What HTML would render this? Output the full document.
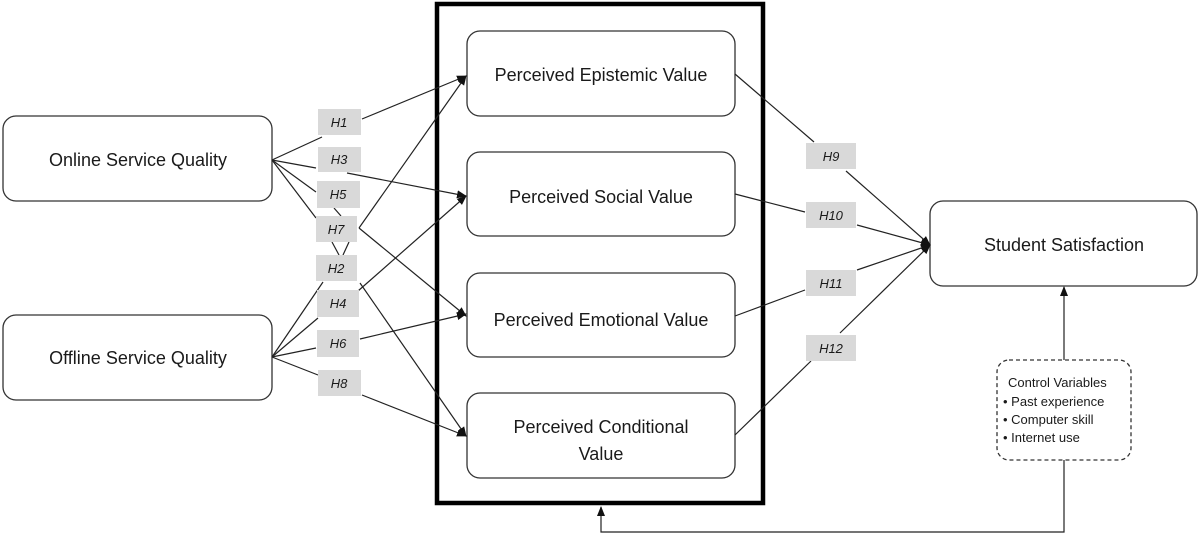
<!DOCTYPE html>
<html><head><meta charset="utf-8"><style>
html,body{margin:0;padding:0;background:#fff;}
svg{display:block;}
text{font-family:"Liberation Sans",Arial,sans-serif;fill:#1a1a1a;}
.b{font-size:18px;text-anchor:middle;}
.h{font-size:13px;font-style:italic;text-anchor:middle;}
.c{font-size:13px;}
</style></head><body>
<svg width="1200" height="535" viewBox="0 0 1200 535" xmlns="http://www.w3.org/2000/svg">
<defs><marker id="a" markerWidth="10" markerHeight="10" refX="9" refY="5" orient="auto" markerUnits="userSpaceOnUse"><path d="M0,1 L10,5 L0,9 z" fill="#111"/></marker></defs>
<rect x="437" y="4" width="326" height="499" fill="none" stroke="#000" stroke-width="4.5"/>
<g fill="#fff" stroke="#333" stroke-width="1.3">
<rect x="3" y="116" width="269" height="85" rx="13"/>
<rect x="3" y="315" width="269" height="85" rx="13"/>
<rect x="467" y="31" width="268" height="85" rx="13"/>
<rect x="467" y="152" width="268" height="84" rx="13"/>
<rect x="467" y="273" width="268" height="84" rx="13"/>
<rect x="467" y="393" width="268" height="85" rx="13"/>
<rect x="930" y="201" width="267" height="85" rx="13"/>
<rect x="997" y="360" width="134" height="100" rx="12" stroke-dasharray="4,3"/>
</g>
<g stroke="#222" stroke-width="1.2" fill="none">
<line x1="272" y1="160" x2="322" y2="137"/>
<line x1="362" y1="119" x2="466" y2="76" marker-end="url(#a)"/>
<line x1="272" y1="160" x2="316" y2="168"/>
<line x1="347" y1="173" x2="466" y2="196" marker-end="url(#a)"/>
<line x1="272" y1="160" x2="316" y2="192"/>
<line x1="272" y1="160" x2="316" y2="218"/>
<line x1="334" y1="208" x2="341" y2="216"/>
<line x1="332" y1="242" x2="339" y2="255"/>
<line x1="349" y1="242" x2="343" y2="255"/>
<line x1="359" y1="228" x2="466" y2="76" marker-end="url(#a)"/>
<line x1="359" y1="228" x2="466" y2="316" marker-end="url(#a)"/>
<line x1="272" y1="357" x2="323" y2="282"/>
<line x1="272" y1="357" x2="318" y2="318"/>
<line x1="272" y1="357" x2="316" y2="348"/>
<line x1="272" y1="357" x2="318" y2="375"/>
<line x1="360" y1="283" x2="466" y2="436" marker-end="url(#a)"/>
<line x1="358" y1="291" x2="466" y2="196" marker-end="url(#a)"/>
<line x1="360" y1="339" x2="466" y2="314" marker-end="url(#a)"/>
<line x1="362" y1="395" x2="466" y2="436" marker-end="url(#a)"/>
<line x1="735" y1="74" x2="814" y2="142"/>
<line x1="846" y1="171" x2="930" y2="245" marker-end="url(#a)"/>
<line x1="735" y1="194" x2="805" y2="212"/>
<line x1="857" y1="225" x2="930" y2="245" marker-end="url(#a)"/>
<line x1="735" y1="316" x2="805" y2="290"/>
<line x1="857" y1="270" x2="930" y2="245" marker-end="url(#a)"/>
<line x1="735" y1="435" x2="811" y2="361"/>
<line x1="840" y1="333" x2="930" y2="245" marker-end="url(#a)"/>
<line x1="1064" y1="360" x2="1064" y2="287" marker-end="url(#a)"/>
<polyline points="1064,460 1064,532 601,532 601,507" marker-end="url(#a)"/>
</g>
<g fill="#d9d9d9">
<rect x="318" y="109" width="43" height="26"/>
<rect x="318" y="147" width="43" height="25"/>
<rect x="317" y="181" width="43" height="27"/>
<rect x="316" y="216" width="41" height="26"/>
<rect x="316" y="255" width="41" height="26"/>
<rect x="317" y="290" width="42" height="27"/>
<rect x="317" y="330" width="42" height="27"/>
<rect x="318" y="370" width="43" height="26"/>
<rect x="806" y="143" width="50" height="26"/>
<rect x="806" y="202" width="50" height="26"/>
<rect x="806" y="270" width="50" height="26"/>
<rect x="806" y="335" width="50" height="26"/>
</g>
<text class="h" x="339" y="127">H1</text>
<text class="h" x="339" y="164">H3</text>
<text class="h" x="338" y="199">H5</text>
<text class="h" x="336" y="234">H7</text>
<text class="h" x="336" y="273">H2</text>
<text class="h" x="338" y="308">H4</text>
<text class="h" x="338" y="348">H6</text>
<text class="h" x="339" y="388">H8</text>
<text class="h" x="831" y="161">H9</text>
<text class="h" x="831" y="220">H10</text>
<text class="h" x="831" y="288">H11</text>
<text class="h" x="831" y="353">H12</text>
<text class="b" x="138" y="166">Online Service Quality</text>
<text class="b" x="138" y="364">Offline Service Quality</text>
<text class="b" x="601" y="81">Perceived Epistemic Value</text>
<text class="b" x="601" y="203">Perceived Social Value</text>
<text class="b" x="601" y="326">Perceived Emotional Value</text>
<text class="b" x="601" y="433">Perceived Conditional</text>
<text class="b" x="601" y="460">Value</text>
<text class="b" x="1064" y="251">Student Satisfaction</text>
<text class="c" x="1008" y="387">Control Variables</text>
<text class="c" x="1003" y="406">• Past experience</text>
<text class="c" x="1003" y="424">• Computer  skill</text>
<text class="c" x="1003" y="442">• Internet use</text>
</svg>
</body></html>
